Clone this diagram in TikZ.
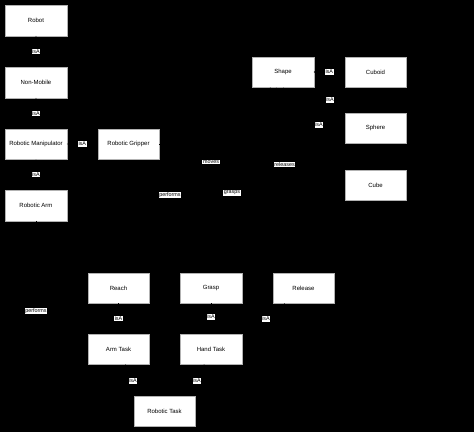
\documentclass[tikz,border=0pt]{standalone}
\usepackage{fontspec}
\setmainfont{Liberation Sans}
\usetikzlibrary{arrows.meta}
\begin{document}
\begin{tikzpicture}[x=1pt, y=-1pt,
  box/.style={draw=gray!60, line width=0.4pt, fill=white, minimum width=61.5pt, minimum height=30.5pt, inner sep=0pt, font=\fontsize{6}{7}\selectfont},
  lbl/.style={fill=white, text=black, inner sep=0.6pt, font=\fontsize{5.4}{6}\selectfont},
  edge/.style={draw=black, line width=0.5pt, -{Stealth[length=4pt]}}]
\fill[black] (0,0) rectangle (474,432);
\useasboundingbox (0,0) rectangle (474,432);
\node[box] (robot) at (36,20.5){Robot};
\node[box] (nonmob) at (36,82.5){Non-Mobile};
\node[box] (manip) at (36,144){Robotic Manipulator};
\node[box] (gripper) at (128.5,144){Robotic Gripper};
\node[box] (arm) at (36,205.5){Robotic Arm};
\draw[edge](nonmob) -- node[lbl]{isA} (robot);
\draw[edge](manip) -- node[lbl]{isA} (nonmob);
\draw[edge](gripper) -- node[lbl]{isA} (manip);
\draw[edge](arm) -- node[lbl]{isA} (manip);
\node[box] (shape) at (283,72){Shape};
\node[box] (cuboid) at (375.5,72){Cuboid};
\node[box] (sphere) at (375.5,128){Sphere};
\node[box] (cube) at (375.5,185){Cube};
\draw[edge](sphere) -| (330,100) node[lbl]{isA} |- (shape);
\draw[edge](cube) -| (319,125) node[lbl]{isA} |- (shape);
\draw[edge](cuboid) -- node[lbl]{isA} (shape);
\node[box] (reach) at (118.5,288){Reach};
\node[box] (grasp) at (211,288){Grasp};
\node[box] (release) at (303.5,288){Release};
\node[box] (armtask) at (118.5,349){Arm Task};
\node[box] (handtask) at (211,349){Hand Task};
\node[box] (robtask) at (164.5,411){Robotic Task};
\draw[edge](reach) -- node[lbl]{isA} (armtask);
\draw[edge](grasp) -- node[lbl, pos=0.45]{isA} (handtask);
\draw[edge](release) -- (266,319) node[lbl]{isA} -- (handtask);
\draw[edge](armtask) -- (133,381) node[lbl]{isA} -- (robtask);
\draw[edge](handtask) -- (197,381) node[lbl]{isA} -- (robtask);
\draw[edge](arm) -- (36,311) node[lbl]{performs} |- (armtask);
\draw[edge](gripper) -| (170,195) node[lbl]{performs} |- (handtask);
\draw[edge](reach) -- (211,162) node[lbl]{moves} -- (shape);
\draw[edge](grasp) -- (232,193) node[lbl]{grasps} -- (shape);
\draw[edge](release) -- (284.5,164.5) node[lbl]{releases} -- (shape);
\end{tikzpicture}
\end{document}
